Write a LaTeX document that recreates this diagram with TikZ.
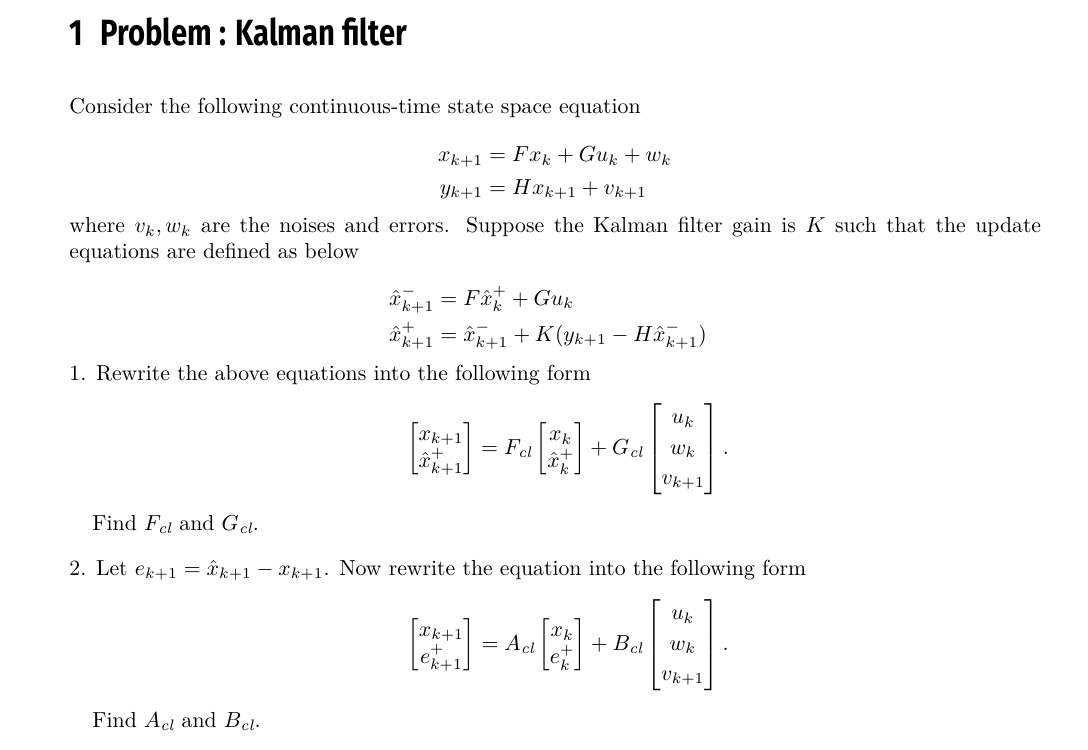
\documentclass[tikz,border=0pt]{standalone}
\usepackage{amsmath}
\usepackage{fontspec}
\newfontfamily\titlefont{Fira Sans}
\begin{document}
\begin{tikzpicture}[x=0.46pt,y=-0.46pt,
  txt/.style={anchor=base west,inner sep=0pt},
  eq/.style={anchor=center,inner sep=0pt}]
\useasboundingbox[fill=white] (0,0) rectangle (1088,749);
\node[txt] (title) at (69,45) {\scalebox{0.84}[1.05]{\titlefont\bfseries\fontsize{16}{18}\selectfont 1\hspace{0.6em}Problem : Kalman filter}};
\node[txt] (p1) at (69,113) {Consider the following continuous-time state space equation};
\node[eq] (e1) at (555,173) {$\begin{aligned} x_{k+1} &= Fx_k + Gu_k + w_k\\ y_{k+1} &= Hx_{k+1} + v_{k+1}\end{aligned}$};
\node[txt,anchor=north west,text width=447pt,align=justify] (p2) at (69,217) {where $v_k, w_k$ are the noises and errors. Suppose the Kalman filter gain is $K$ such that the update equations are defined as below};
\node[eq] (e2) at (548,318) {$\begin{aligned} \hat{x}^-_{k+1} &= F\hat{x}^+_k + Gu_k\\ \hat{x}^+_{k+1} &= \hat{x}^-_{k+1} + K(y_{k+1} - H\hat{x}^-_{k+1})\end{aligned}$};
\node[txt] (q1) at (69,380) {1. Rewrite the above equations into the following form};
\node[eq] (m1) at (568,449) {$\begin{bmatrix} x_{k+1}\\ \hat{x}^+_{k+1}\end{bmatrix} = F_{\mathit{cl}}\begin{bmatrix} x_k\\ \hat{x}^+_k\end{bmatrix} + G_{\mathit{cl}}\begin{bmatrix} u_k\\[2pt] w_k\\[2pt] v_{k+1}\end{bmatrix}.$};
\node[txt] (f1) at (92,530) {Find $F_{\mathit{cl}}$ and $G_{\mathit{cl}}$.};
\node[txt] (q2) at (69,575) {2. Let $e_{k+1} = \hat{x}_{k+1} - x_{k+1}$. Now rewrite the equation into the following form};
\node[eq] (m2) at (568,645) {$\begin{bmatrix} x_{k+1}\\ e^+_{k+1}\end{bmatrix} = A_{\mathit{cl}}\begin{bmatrix} x_k\\ e^+_k\end{bmatrix} + B_{\mathit{cl}}\begin{bmatrix} u_k\\[2pt] w_k\\[2pt] v_{k+1}\end{bmatrix}.$};
\node[txt] (f2) at (92,727) {Find $A_{\mathit{cl}}$ and $B_{\mathit{cl}}$.};
\end{tikzpicture}
\end{document}
